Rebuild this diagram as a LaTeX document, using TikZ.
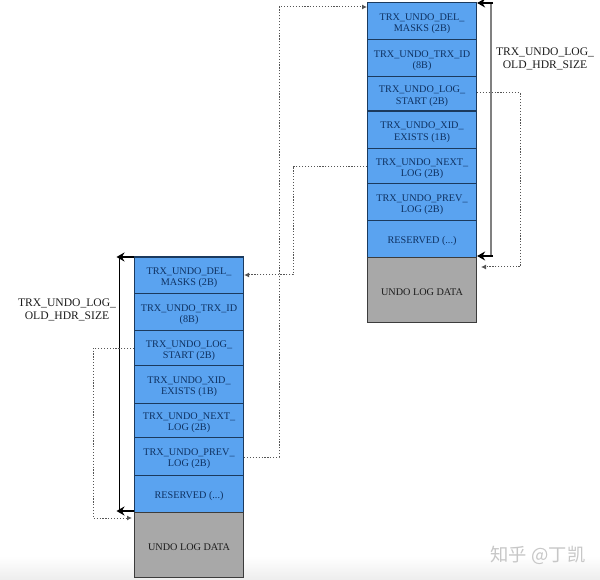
\documentclass[tikz,border=0pt]{standalone}
\usepackage{fontspec}
\setmainfont{Liberation Serif}
\newfontfamily\cjk{Noto Sans CJK SC}
\usetikzlibrary{arrows.meta,calc}
\definecolor{cellblue}{HTML}{5AA3F0}
\definecolor{celltext}{HTML}{0F3262}
\definecolor{cellline}{HTML}{1B3A5E}
\definecolor{datagray}{HTML}{A8A8A8}
\definecolor{datatext}{HTML}{1C1C1C}
\definecolor{darkline}{HTML}{3C3C3C}
\definecolor{dotgray}{HTML}{555555}
\tikzset{
  x=1pt,y=-1pt,
  cellbox/.style={draw=cellline,line width=1.1pt,fill=cellblue,minimum width=109pt,inner sep=0pt,anchor=north west},
  databox/.style={cellbox,draw=darkline,fill=datagray},
  celllabel/.style={text=celltext,inner sep=0pt,align=center,yshift=-2.4pt,font=\fontsize{10.2}{11.3}\selectfont},
  datalabel/.style={celllabel,text=datatext},
  sizelabel/.style={text=datatext,align=center,inner sep=0pt,font=\fontsize{11.6}{13}\selectfont},
  dotline/.style={draw=dotgray,line width=1pt,dash pattern=on 1.2pt off 1.7pt,-{Latex[length=5pt,width=5pt]}},
  sizebar/.style={line width=1.3pt,-{Stealth[length=8pt,width=9pt]}},
  sizerule/.style={line width=1.4pt}
}
\newcommand{\cellnode}[6][cell]{%
  \node[#1box,minimum height=#5pt,label={[#1label]center:{#6}}] (#2) at (#3,#4) {};}
\begin{document}
\begin{tikzpicture}
\useasboundingbox (0,0) rectangle (600,580);
\fill[white] (0,0) rectangle (600,580);
\shade[top color=white,bottom color=black!7] (0,556) rectangle (600,580);
% right stack
\cellnode{ra}{367}{2}{37}{TRX\_UNDO\_DEL\_\\MASKS (2B)}
\cellnode{rb}{367}{39}{37}{TRX\_UNDO\_TRX\_ID\\(8B)}
\cellnode{rc}{367}{76}{34.5}{TRX\_UNDO\_LOG\_\\START (2B)}
\cellnode{rd}{367}{110.5}{37.5}{TRX\_UNDO\_XID\_\\EXISTS (1B)}
\cellnode{re}{367}{148}{35}{TRX\_UNDO\_NEXT\_\\LOG (2B)}
\cellnode{rf}{367}{183}{37}{TRX\_UNDO\_PREV\_\\LOG (2B)}
\cellnode{rg}{367}{220}{37}{RESERVED (...)}
\cellnode[data]{rh}{367}{257}{65}{UNDO LOG DATA}
% left stack
\cellnode{la}{134}{256.5}{36.5}{TRX\_UNDO\_DEL\_\\MASKS (2B)}
\cellnode{lb}{134}{293}{37}{TRX\_UNDO\_TRX\_ID\\(8B)}
\cellnode{lc}{134}{330}{35}{TRX\_UNDO\_LOG\_\\START (2B)}
\cellnode{ld}{134}{365}{38}{TRX\_UNDO\_XID\_\\EXISTS (1B)}
\cellnode{le}{134}{403}{34}{TRX\_UNDO\_NEXT\_\\LOG (2B)}
\cellnode{lf}{134}{437}{38}{TRX\_UNDO\_PREV\_\\LOG (2B)}
\cellnode{lg}{134}{475}{37}{RESERVED (...)}
\cellnode[data]{lh}{134}{512}{65}{UNDO LOG DATA}
% labels
\node[sizelabel] (rlabel) at (545,58.5) {TRX\_UNDO\_LOG\_\\OLD\_HDR\_SIZE};
\node[sizelabel] (llabel) at (67,309.5) {TRX\_UNDO\_LOG\_\\OLD\_HDR\_SIZE};
% size brackets, right
\coordinate (rtopfree) at (493,3);
\coordinate (rbotfree) at (493,256);
\draw[sizerule,draw=black!50] (491,3) -- (491,256);
\draw[sizebar] (rtopfree) -- (rtopfree -| ra.east);
\draw[sizebar] (rbotfree) -- (rbotfree -| rg.east);
% size brackets, left
\coordinate (ltopfree) at (134,257);
\coordinate (lbotfree) at (134,511);
\draw[sizebar] (ltopfree) -- (116.5,257);
\draw[sizebar] (lbotfree) -- (116.5,511);
\draw[sizerule] (119.5,257) -- (119.5,511);
% dotted connectors
\draw[dotline] ($(lf.east)+(0,0.5)$) -| (279,7) -- (ra.north west |- 0,7);
\draw[dotline] (re.west) -| (293,275) -- (la.east |- 0,275);
\draw[dotline] ([yshift=1pt]rc.east) -| (520,267) -- (481,267);
\draw[dotline] (lc.west) -| (93,518) -- (132,518);
% watermark
\node[text=black!22,inner sep=0pt,font=\cjk\fontsize{18.3}{18}\selectfont] (mark) at (538,555) {知乎 @丁凯};
\end{tikzpicture}
\end{document}
